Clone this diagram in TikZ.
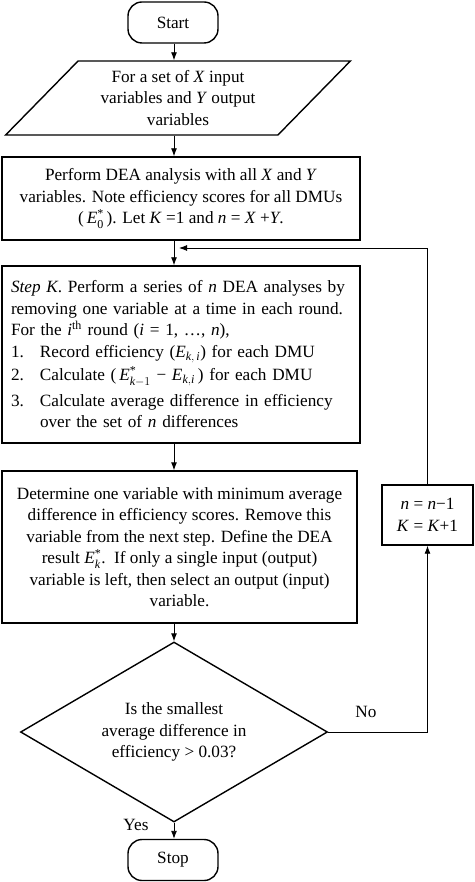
\documentclass[tikz,border=0pt]{standalone}
\usepackage{fontspec}
\usepackage{amsmath}
\setmainfont{Liberation Serif}
\usetikzlibrary{shapes.geometric,arrows.meta}
\newcommand{\vi}[1]{\text{\itshape #1}}

\begin{document}
\begin{tikzpicture}[x=1pt,y=-1pt,
		>={Latex[length=8pt,width=6pt]},
		every node/.style={font=\fontsize{17.2}{21.5}\selectfont},
		terminal/.style={draw, line width=1.4pt, rounded corners=14pt, minimum width=90pt, minimum height=41pt},
		io/.style={draw, line width=1.4pt, trapezium, trapezium left angle=46.6, trapezium right angle=133.4, trapezium stretches=true, minimum width=345pt, minimum height=74pt, align=center},
		process/.style={draw, line width=1.4pt, align=center, inner sep=0pt},
		decision/.style={draw, line width=1.4pt, diamond, aspect=1.7, minimum width=307pt, minimum height=180pt, inner sep=0pt, align=center},
		flow/.style={->, line width=0.9pt}
		]
		\useasboundingbox (0,0) rectangle (474,882);
		
		% Draw Main Column
		\node[terminal] (start) at (173,22.5) {Start};
		\node[io] (input) at (178,98) {For a set of \textit{X} input\\variables and \textit{Y} output\\variables};
		\node[process, minimum width=358pt, minimum height=83pt] (box1) at (181,198.5) {Perform DEA analysis with all \textit{X} and \textit{Y}\\variables. Note efficiency scores for all DMUs\\(\,\textit{E}$^{\text{*}}_{\text{0}}$\,). Let \textit{K} =1 and \textit{n} = \textit{X} +\textit{Y}.};
		\node[process, minimum width=358pt, minimum height=177pt, text width=340pt, inner xsep=9pt, align=left] (box2) at (181,354.5) {\textit{Step K}. Perform a series of \textit{n} DEA analyses by\\
			removing one variable at a time in each round.\\
			For the \textit{i}\textsuperscript{th} round (\textit{i} = 1, …, \textit{n}),\\
			\makebox[29pt][l]{1.}Record efficiency (\textit{E}$_{\vi{k},\,\vi{i}}$) for each DMU\\[2pt]
			\makebox[29pt][l]{2.}Calculate (\,\textit{E}$^{\text{*}}_{\vi{k}-1}$ − \textit{E}$_{\vi{k},\vi{i}}$\,) for each DMU\\[4pt]
			\makebox[29pt][l]{3.}Calculate average difference in efficiency\\
			\hspace*{29pt}over the set of \textit{n} differences};
		\node[process, minimum width=355pt, minimum height=152pt] (box3) at (179.5,547) {Determine one variable with minimum average\\
			difference in efficiency scores. Remove this\\
			variable from the next step. Define the DEA\\
			result \textit{E}$_{\vi{k}}^{\text{*}}$.\ \ If only a single input (output)\\
			variable is left, then select an output (input)\\
			variable.};
		\node[decision] (dec) at (174,732) {Is the smallest\\average difference in\\efficiency > 0.03?};
		\node[terminal] (stop) at (173,860) {Stop};
		
		% Draw Loop Box
		\node[process, minimum width=91pt, minimum height=60pt] (nbox) at (427.5,515) {\textit{n} = \textit{n}−1\\\textit{K} = \textit{K}+1};
		\coordinate (loop) at (179,248);
		
		% Add Labels
		\node (no) at (366,712) {No};
		\node (yes) at (136,825) {Yes};
		
		% Add Arrows
		\draw[flow] (start.south -| dec) -- (input.north -| dec);
		\draw[flow] (input.south -| dec) -- (box1.north -| dec);
		\draw[flow] (box1.south -| dec) -- (box2.north -| dec);
		\draw[flow] (box2.south -| dec) -- (box3.north -| dec);
		\draw[flow] (box3.south -| dec) -- (dec.north);
		\draw[flow] (dec.south) -- (stop.north -| dec);
		\draw[flow] (dec.east) -| (nbox.south);
		\draw[flow] (nbox.north) |- (loop);
		
	\end{tikzpicture}
\end{document}
